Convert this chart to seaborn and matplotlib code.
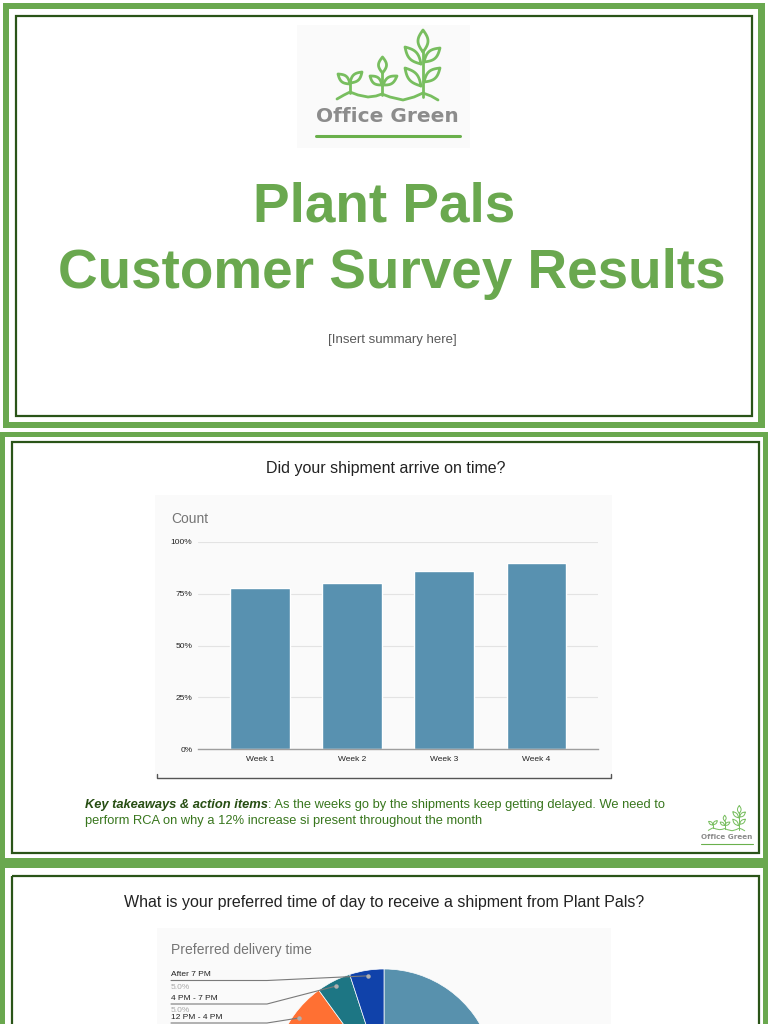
import numpy as np
import matplotlib
matplotlib.use("Agg")
import matplotlib.pyplot as plt
import seaborn as sns
from matplotlib.patches import Rectangle

sns.set_style("white")
plt.rcParams['font.family'] = ['Liberation Sans', 'DejaVu Sans']

# ---- data ----
weeks = ["Week 1", "Week 2", "Week 3", "Week 4"]
on_time = [0.78, 0.80, 0.86, 0.90]
y_ticks = [0, 0.25, 0.5, 0.75, 1.0]

delivery_slots = ["8 AM - 12 PM", "12 PM - 4 PM", "4 PM - 7 PM", "After 7 PM"]
delivery_share = [80.0, 10.0, 5.0, 5.0]
pie_colors = ["#5891ad", "#ff7033", "#1d7684", "#1042aa"]

GREEN = "#6aa84f"
DARK = "#2a5418"
BAR = "#5891b0"
LOGO = "#78be5f"

W, H = 768, 1024
fig = plt.figure(figsize=(7.68, 10.24), dpi=100)
bg = fig.add_axes([0, 0, 1, 1])
bg.set_xlim(0, W)
bg.set_ylim(H, 0)
bg.axis('off')


def px_axes(x0, y0, x1, y1):
    return fig.add_axes([x0 / W, 1 - y1 / H, (x1 - x0) / W, (y1 - y0) / H])


def band(x0, y0, x1, y1, c=GREEN):
    bg.add_patch(Rectangle((x0, y0), x1 - x0, y1 - y0, color=c, lw=0))


# slide frames
band(3, 3, 765, 9); band(3, 3, 9, 428); band(758, 3, 765, 428); band(3, 422, 765, 428)
band(0, 432, 768, 437); band(0, 432, 5, 1024); band(763, 432, 768, 1024); band(0, 858, 768, 868)
bg.add_patch(Rectangle((15.5, 15.5), 736, 400.5, fill=False, ec=DARK, lw=1.6))
bg.add_patch(Rectangle((12, 441.5), 747, 411.5, fill=False, ec=DARK, lw=1.6))
bg.add_patch(Rectangle((12, 875.5), 747, 300, fill=False, ec=DARK, lw=1.6))


def draw_logo(ox, oy, s, box=False):
    def P(x, y):
        return ox + s * (x - 387.5), oy + s * (y - 116)
    if box:
        a, b = P(297, 25)
        bg.add_patch(Rectangle((a, b), 173 * s, 123 * s, color='#fafafa', lw=0))
    lw = max(2.0 * s, 0.7)
    leaves = [(350, 84, 338, 74, 7), (350, 83, 362, 72, 7),
              (382.5, 73, 382.5, 57, 8), (382, 85, 370, 76, 7), (383, 85, 397, 76, 7),
              (423, 52, 423, 30, 10), (421, 64, 405, 47, 9), (424, 62, 440, 48, 9),
              (421, 86, 405, 68, 9), (424, 82, 440, 68, 9)]
    t = np.linspace(0, 1, 30)
    for bx, by, tx, ty, w in leaves:
        d = np.array([tx - bx, ty - by])
        n = np.array([-d[1], d[0]]) / np.hypot(*d)
        off = (w / 2) * np.sin(np.pi * t)
        side1 = np.array([bx, by]) + np.outer(t, d) + np.outer(off, n)
        side2 = np.array([bx, by]) + np.outer(t, d) - np.outer(off, n)
        pts = np.vstack([side1, side2[::-1]])
        xs, ys = zip(*[P(a, b) for a, b in pts])
        bg.plot(xs, ys, color=LOGO, lw=lw, solid_joinstyle='round')
    for x0, y0, y1 in [(350, 93, 84), (382, 95, 73), (422.5, 97, 52)]:
        a, b = P(x0, y0); c, d = P(x0, y1)
        bg.plot([a, c], [b, d], color=LOGO, lw=lw, solid_capstyle='round')
    gx = [337, 344, 350, 358, 368, 376, 382, 390, 403, 414, 423, 431, 438]
    gy = [99, 95, 92, 95, 97, 96, 94, 97, 100, 97, 93, 96, 100]
    xs, ys = zip(*[P(a, b) for a, b in zip(gx, gy)])
    bg.plot(xs, ys, color=LOGO, lw=lw, solid_joinstyle='round', solid_capstyle='round')
    tx, ty = P(387.5, 117)
    bg.text(tx, ty, "Office Green", ha='center', va='center', fontsize=14.5 * s,
            fontweight='bold', color='#8c8c8c', family=['DejaVu Sans'])
    a, b = P(316, 136); c, d = P(460, 136)
    bg.plot([a, c], [b, d], color="#6ab04c", lw=max(2.2 * s, 0.8))


draw_logo(387.5, 116, 1.0, box=True)
draw_logo(726.5, 836.5, 0.36)

# slide 1 text
bg.text(384, 222, "Plant Pals", ha='center', va='baseline', fontsize=39.5,
        fontweight='bold', color=GREEN)
bg.text(392, 288, "Customer Survey Results", ha='center', va='baseline', fontsize=39.5,
        fontweight='bold', color=GREEN)
bg.text(392, 340, "[Insert summary here]", ha='center', va='center', fontsize=9.5, color='#595959')

# slide 2
bg.text(386, 469, "Did your shipment arrive on time?", ha='center', va='center',
        fontsize=11.5, color='#222222')
bg.add_patch(Rectangle((155, 495), 457, 283, color='#fafafa', lw=0))
bg.plot([157, 157, 611, 611], [774, 778, 778, 774], color='#555555', lw=1)
bg.text(171, 519, "Count", ha='left', va='center', fontsize=10, color='#757575')

ax = px_axes(198, 542, 598, 749)
sns.barplot(x=weeks, y=on_time, color=BAR, width=0.647, saturation=1, ax=ax)
ax.set_ylim(0, 1)
ax.set_xlim(-0.674, 3.67)
ax.set_yticks(y_ticks)
ax.set_yticklabels([f"{int(v * 100)}%" for v in y_ticks])
ax.grid(axis='y', color='#e3e3e3', lw=0.8)
ax.grid(axis='x', visible=False)
ax.set_axisbelow(True)
for sp in ['top', 'left', 'right']:
    ax.spines[sp].set_visible(False)
ax.spines['bottom'].set_color('#9e9e9e')
ax.spines['bottom'].set_linewidth(1)
ax.tick_params(length=0, labelsize=6, colors='#222222')
ax.tick_params(axis='y', pad=4)
ax.tick_params(axis='x', pad=5)
ax.set_xlabel('')
ax.set_ylabel('')
ax.patch.set_alpha(0)

t1 = bg.text(85, 805, "Key takeaways & action items", ha='left', va='center', fontsize=9.3,
             fontweight='bold', fontstyle='italic', color='#274e13')
bg.annotate(": As the weeks go by the shipments keep getting delayed. We need to",
            xy=(1, 0), xycoords=t1, ha='left', va='bottom', fontsize=9.3, color='#38761d')
bg.text(85, 821, "perform RCA on why a 12% increase si present throughout the month",
        ha='left', va='center', fontsize=9.3, color='#38761d')

# slide 3
bg.text(384, 903, "What is your preferred time of day to receive a shipment from Plant Pals?",
        ha='center', va='center', fontsize=11.5, color='#222222')
bg.add_patch(Rectangle((157, 928), 454, 120, color='#fafafa', lw=0))
bg.text(171, 950, "Preferred delivery time", ha='left', va='center', fontsize=10, color='#757575')

cx, cy, R = 384, 1080, 111
pax = px_axes(cx - R, cy - R, cx + R, cy + R)
wedges, _ = pax.pie(delivery_share, colors=pie_colors, startangle=90, counterclock=False,
                    wedgeprops=dict(linewidth=0.5, edgecolor='white'))
pax.set_xlim(-1, 1)
pax.set_ylim(-1, 1)
pax.patch.set_alpha(0)

ov = fig.add_axes([0, 0, 1, 1])
ov.set_xlim(0, W)
ov.set_ylim(H, 0)
ov.axis('off')
ov.patch.set_alpha(0)

label_y = [1017.5, 998.5, 975]
for i, ly in zip([1, 2, 3], label_y):
    w = wedges[i]
    mid = np.deg2rad((w.theta1 + w.theta2) / 2)
    disp = pax.transData.transform((0.95 * np.cos(mid), 0.95 * np.sin(mid)))
    dx, dy = ov.transData.inverted().transform(disp)
    uy = ly + 5.5
    ov.plot([171, 267, dx], [uy, uy, dy], color='#7a7a7a', lw=0.8)
    ov.plot(dx, dy, 'o', ms=2.2, color='#b0b0b0')
    ov.text(171, ly, delivery_slots[i], ha='left', va='center', fontsize=6, color='#222222')
    if ly + 12.5 < H - 6:  # percentage line below the visible page is not shown
        ov.text(171, ly + 12.5, f"{delivery_share[i]:.1f}%", ha='left', va='center',
                fontsize=6, color='#aaaaaa')

fig.savefig("out.png", dpi=100)
